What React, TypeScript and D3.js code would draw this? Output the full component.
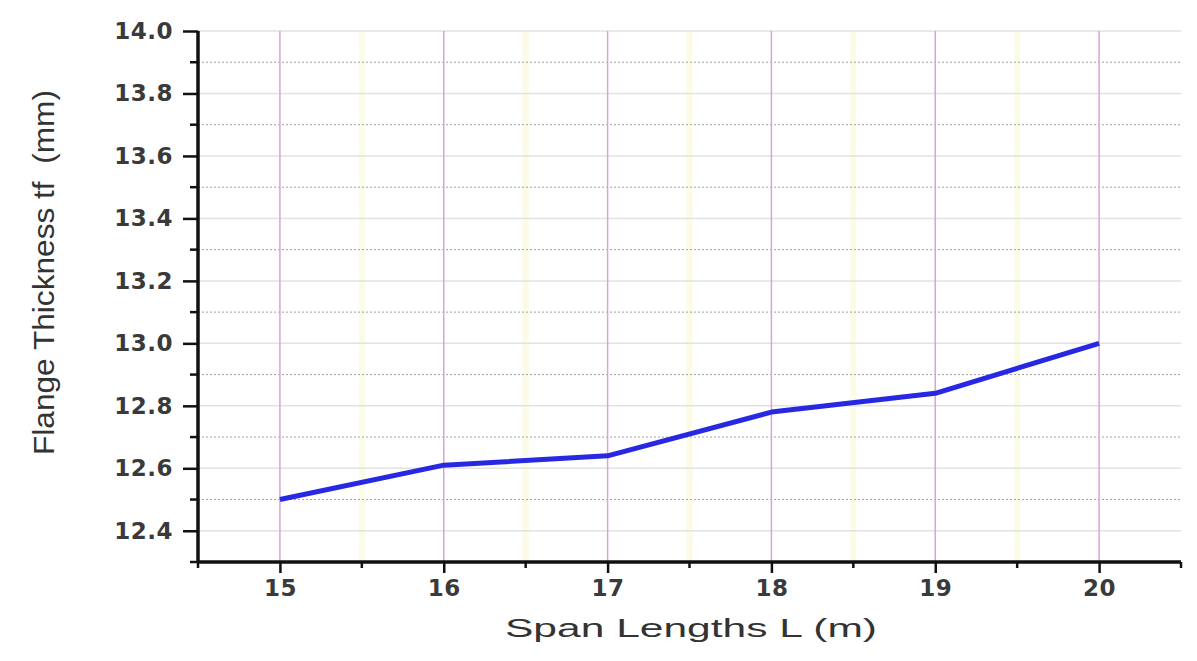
import React, { useEffect, useRef } from "react";
import * as d3 from "d3";

const spans = [15, 16, 17, 18, 19, 20];
const thickness = [12.5, 12.61, 12.64, 12.78, 12.84, 13.0];
const yTicks = [12.4, 12.6, 12.8, 13.0, 13.2, 13.4, 13.6, 13.8, 14.0];
const yMinorTicks = [12.3, 12.5, 12.7, 12.9, 13.1, 13.3, 13.5, 13.7, 13.9];
const xMinorTicks = [14.5, 15.5, 16.5, 17.5, 18.5, 19.5, 20.5];

const W = 1197;
const H = 661;
const margin = { left: 198, right: 16, top: 31, bottom: 99 };

function App() {
  const svgRef = useRef<SVGSVGElement>(null);

  useEffect(() => {
    const svg = d3.select(svgRef.current);
    svg.selectAll("*").remove();

    const x = d3.scaleLinear().domain([14.5, 20.5]).range([margin.left, W - margin.right]);
    const y = d3.scaleLinear().domain([12.3, 14.0]).range([H - margin.bottom, margin.top]);
    const [x0, x1] = x.range();
    const [yb, yt] = y.range();

    const grid = svg.append("g");
    // minor vertical grid (faint yellow)
    grid.selectAll(".vminor").data(xMinorTicks.slice(1, -1)).join("line")
      .attr("x1", d => x(d)).attr("x2", d => x(d))
      .attr("y1", yt).attr("y2", yb)
      .attr("stroke", "#fcfce6").attr("stroke-width", 6);
    // minor horizontal grid (dotted)
    grid.selectAll(".hminor").data(yMinorTicks.slice(1)).join("line")
      .attr("x1", x0).attr("x2", x1)
      .attr("y1", d => y(d)).attr("y2", d => y(d))
      .attr("stroke", "#a0a0a0").attr("stroke-width", 1).attr("stroke-dasharray", "2,2");
    // major horizontal grid
    grid.selectAll(".hmajor").data(yTicks).join("line")
      .attr("x1", x0).attr("x2", x1)
      .attr("y1", d => y(d)).attr("y2", d => y(d))
      .attr("stroke", "#e2e2e2").attr("stroke-width", 1.5);
    // major vertical grid (pink/purple)
    grid.selectAll(".vmajor").data(spans).join("line")
      .attr("x1", d => x(d)).attr("x2", d => x(d))
      .attr("y1", yt).attr("y2", yb)
      .attr("stroke", "#d8a4d8").attr("stroke-width", 1.5);

    // data line
    const line = d3.line<number>()
      .x((d, i) => x(spans[i]))
      .y(d => y(d));
    svg.append("path")
      .datum(thickness)
      .attr("d", line)
      .attr("fill", "none")
      .attr("stroke", "#2828e2")
      .attr("stroke-width", 5)
      .attr("stroke-linejoin", "round");

    const tickFont = "DejaVu Sans, Verdana, sans-serif";

    // y axis
    const yAxis = svg.append("g").attr("transform", `translate(${x0},0)`);
    yAxis.call(d3.axisLeft(y).tickValues(yTicks).tickSize(15).tickPadding(10).tickFormat(d3.format(".1f")));
    yAxis.append("g").selectAll("line").data(yMinorTicks).join("line")
      .attr("x1", -8).attr("x2", 0)
      .attr("y1", d => y(d)).attr("y2", d => y(d))
      .attr("stroke", "#111").attr("stroke-width", 2.5);
    yAxis.select(".domain").attr("stroke", "#111").attr("stroke-width", 3.5).attr("d", `M0,${yb + 1}V${yt}`);
    yAxis.selectAll(".tick line").attr("stroke", "#111").attr("stroke-width", 2.5);
    yAxis.selectAll(".tick text")
      .attr("font-family", tickFont)
      .attr("font-size", 23).attr("font-weight", "bold").attr("fill", "#3a3a3a")
      .attr("letter-spacing", 0.5);

    // x axis
    const xAxis = svg.append("g").attr("transform", `translate(0,${yb})`);
    xAxis.call(d3.axisBottom(x).tickValues(spans).tickSize(11).tickPadding(7).tickFormat(d3.format("d")));
    xAxis.append("g").selectAll("line").data(xMinorTicks).join("line")
      .attr("x1", d => x(d)).attr("x2", d => x(d))
      .attr("y1", 0).attr("y2", 6)
      .attr("stroke", "#111").attr("stroke-width", 2.5);
    xAxis.select(".domain").attr("stroke", "#111").attr("stroke-width", 3.5).attr("d", `M${x0 - 1},0H${x1}`);
    xAxis.selectAll(".tick line").attr("stroke", "#111").attr("stroke-width", 2.5);
    xAxis.selectAll(".tick text")
      .attr("font-family", tickFont)
      .attr("font-size", 23).attr("font-weight", "bold").attr("fill", "#3a3a3a")
      .attr("letter-spacing", 0.5);

    // axis titles
    svg.append("text")
      .attr("x", 505).attr("y", 637)
      .attr("font-family", "Liberation Sans, Arial, sans-serif")
      .attr("font-size", 26).attr("fill", "#333")
      .attr("textLength", 372).attr("lengthAdjust", "spacingAndGlyphs")
      .text("Span Lengths L (m)");
    svg.append("text")
      .attr("transform", `translate(54,455) rotate(-90)`)
      .attr("font-family", "Liberation Sans Narrow, Arial Narrow, sans-serif")
      .attr("font-size", 29).attr("fill", "#333")
      .attr("textLength", 365).attr("lengthAdjust", "spacingAndGlyphs")
      .attr("xml:space", "preserve")
      .text("Flange Thickness tf  (mm)");
  }, []);

  return (
    <div style={{ position: "absolute", left: 0, top: 0 }}>
      <svg ref={svgRef} width={W} height={H} style={{ display: "block", background: "#fff" }} />
    </div>
  );
}

export default App;
